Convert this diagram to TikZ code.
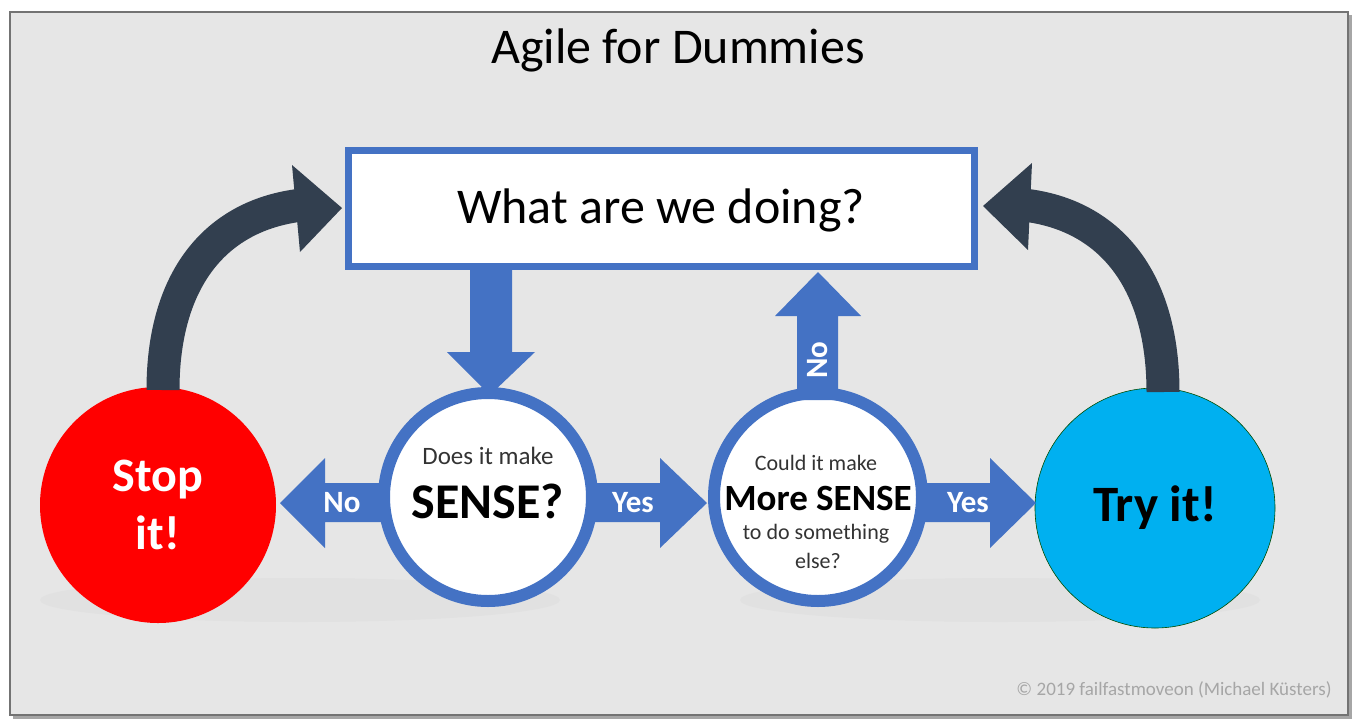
\documentclass[tikz,border=0pt]{standalone}
\usepackage{fontspec}
\setmainfont{Carlito}
\definecolor{bg}{HTML}{E6E6E6}
\definecolor{ablue}{HTML}{4472C4}
\definecolor{dark}{HTML}{323F4F}
\definecolor{cyanc}{HTML}{00B0F0}
\begin{document}
\begin{tikzpicture}[x=1pt,y=-1pt,
  barrow/.style={fill=ablue,draw=none},
  lbl/.style={text=white,font=\fontsize{31}{31}\selectfont\bfseries},
  qcircle/.style={circle,draw=ablue,line width=12pt,fill=white,minimum size=208pt,inner sep=0pt,align=center}]
\useasboundingbox (0,0) rectangle (1358,721);
\fill[white] (0,0) rectangle (1358,721);
\fill[black!35] (13,15) rectangle (1352,719);
\fill[bg,draw=black!55,line width=1.5pt] (10,12) rectangle (1348,715);
% shadows
\fill[black!12,opacity=0.8] (300,600) ellipse (260 and 22);
\fill[black!12,opacity=0.8] (1000,600) ellipse (260 and 22);
\node[font=\fontsize{50}{50}\selectfont] (title) at (678,50) {Agile for Dummies};
% box
\fill[white,draw=ablue,line width=7pt] (348.5,150.5) rectangle (974.5,266.5);
\node[font=\fontsize{50}{50}\selectfont] (box) at (661,210) {What are we doing?};
% circles
\node[qcircle] (c1) at (488,497) {};
\node[font=\fontsize{25}{25}\selectfont,text=black!80] at (488,456) {Does it make};
\node[font=\fontsize{50}{50}\selectfont\bfseries] at (488,501) {SENSE?};
\node[qcircle] (c2) at (818,497) {};
\node[font=\fontsize{22}{22}\selectfont,text=black!80] at (816,463) {Could it make};
\node[font=\fontsize{37}{37}\selectfont\bfseries] at (818,498) {More SENSE};
\node[font=\fontsize{22}{22}\selectfont,text=black!80] at (816,534) {to do something};
\node[font=\fontsize{22}{22}\selectfont,text=black!80] at (818,561) {else?};
\node[circle,fill=red,minimum size=236pt,inner sep=0pt,align=center,text=white,font=\fontsize{48}{58}\selectfont\bfseries] (stop) at (158,505) {Stop\\it!};
\node[circle,fill=cyanc,draw=black!70!green,line width=0.6pt,minimum size=240pt,inner sep=0pt,font=\fontsize{51}{51}\selectfont\bfseries] (try) at (1155,508) {Try it!};
% down arrow
\fill[barrow] (470,270) -- (512,270) -- (512,352) -- (535,352) -- (490,395) -- (447,352) -- (470,352) -- cycle;
% up arrow
\fill[barrow] (797,400) -- (838,400) -- (838,316) -- (861,316) -- (818,272) -- (775,316) -- (797,316) -- cycle;
\node[lbl,rotate=90] at (818,360) {No};
% No left
\fill[barrow] (384,483) -- (325,483) -- (325,458) -- (280,503) -- (325,548) -- (325,522) -- (384,522) -- cycle;
\node[lbl] at (342,503) {No};
% Yes arrows
\fill[barrow] (592,483) -- (660,483) -- (660,458) -- (707,503) -- (660,548) -- (660,522) -- (592,522) -- cycle;
\node[lbl] at (633,503) {Yes};
\fill[barrow] (922,483) -- (990,483) -- (990,458) -- (1036,503) -- (990,548) -- (990,522) -- (922,522) -- cycle;
\node[lbl] at (968,503) {Yes};
% curved arrows
\draw[dark,line width=33pt] (163,390) .. controls (163,280) and (215,215) .. (302,205);
\fill[dark] (292,165) -- (342,208) -- (300,252) -- cycle;
\draw[dark,line width=33pt] (1163,392) .. controls (1163,280) and (1110,215) .. (1024,205);
\fill[dark] (1032,163) -- (983,206) -- (1028,250) -- cycle;
\node[text=black!35,font=\fontsize{19}{19}\selectfont] at (1174,690) {© 2019 failfastmoveon (Michael Küsters)};
\end{tikzpicture}
\end{document}
